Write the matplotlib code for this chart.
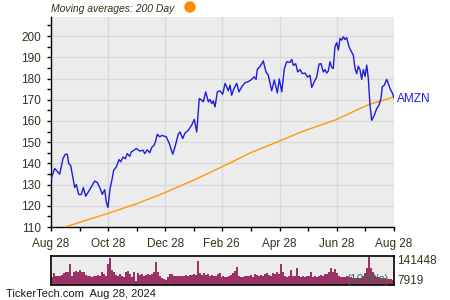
import matplotlib
matplotlib.use("Agg")
import matplotlib.pyplot as plt
from matplotlib.patches import Ellipse
import numpy as np

plt.rcParams['font.family'] = ['Liberation Sans', 'DejaVu Sans']

# days since Aug 28, 2023 and AMZN close
price_days = [0, 3.9, 9.3, 12.8, 15.3, 17.4, 18.9, 21.0, 25.3, 27.0, 29.6, 32.3, 34.5, 37.0,
              41.3, 46.6, 49.4, 52.0, 54.7, 57.3, 59.0, 60.8, 63.0, 65.1, 66.9, 69.7, 72.6,
              74.4, 76.8, 79.3, 81.4, 84.0, 85.7, 88.6, 91.0, 94.7, 98.2, 100.0, 102.8, 105.3,
              107.8, 109.9, 111.3, 113.4, 116.0, 118.4, 123.0, 126.2, 129.9, 132.3, 135.8,
              137.7, 140.5, 143.0, 146.5, 150.1, 152.9, 155.5, 158.2, 160.8, 162.5, 165.1,
              167.9, 169.7, 171.5, 173.2, 175.0, 177.5, 180.3, 183.2, 185.7, 187.5, 189.2,
              191.0, 192.8, 195.3, 198.2, 200.6, 203.5, 207.0, 210.5, 214.2, 216.6, 218.8,
              220.1, 223.0, 226.5, 229.4, 231.9, 235.5, 238.3, 241.5, 243.6, 246.2, 249.0,
              251.5, 255.0, 256.9, 258.6, 261.1, 263.3, 265.7, 268.2, 271.0, 273.9, 276.4,
              278.2, 281.0, 283.5, 286.0, 288.1, 290.6, 292.4, 294.2, 295.9, 297.7, 299.5,
              301.2, 303.0, 304.9, 306.6, 308.4, 310.2, 311.9, 313.7, 315.5, 318.0, 320.1,
              322.6, 324.4, 326.2, 327.9, 329.7, 331.5, 333.3, 335.1, 336.9, 338.6, 340.4,
              342.2, 345.0, 347.6, 350.0, 352.1, 353.5, 355.7, 358.2, 359.9, 361.7, 364.2, 366.3]
price = [132.4, 137.6, 134.9, 142.3, 144.3, 144.3, 139.9, 139.0, 128.6, 130.0, 125.3, 125.3,
         128.6, 124.5, 127.6, 131.7, 131.0, 128.6, 125.4, 127.6, 121.8, 119.2, 128.1, 132.4,
         136.8, 138.3, 141.8, 140.7, 143.0, 142.2, 144.6, 143.3, 145.4, 146.2, 147.0, 145.8,
         146.2, 144.6, 146.4, 145.0, 147.7, 148.4, 150.0, 153.7, 152.5, 153.2, 152.5, 149.4,
         144.3, 147.8, 153.7, 154.8, 151.7, 154.3, 155.6, 158.0, 160.7, 154.8, 170.6, 169.8,
         169.0, 173.7, 169.0, 170.1, 168.2, 169.4, 166.6, 173.7, 174.2, 172.6, 177.7, 176.1,
         174.2, 176.9, 172.1, 175.3, 177.7, 173.7, 176.1, 178.0, 178.5, 179.6, 180.8, 179.6,
         184.3, 185.6, 188.3, 183.1, 181.5, 174.2, 179.3, 173.2, 179.8, 173.7, 184.7, 187.9,
         187.6, 189.0, 186.2, 187.0, 183.1, 184.2, 182.3, 182.6, 180.7, 181.5, 175.8, 178.5,
         180.7, 186.8, 187.0, 183.1, 184.2, 182.6, 183.5, 187.9, 185.3, 184.7, 195.0, 196.9,
         193.4, 198.9, 198.1, 199.7, 198.4, 199.3, 195.0, 193.0, 191.0, 184.7, 182.3, 185.8,
         184.2, 179.6, 184.2, 181.0, 186.3, 180.0, 167.4, 160.3, 162.7, 165.9, 167.4, 170.6,
         176.1, 176.9, 179.6, 177.7, 175.3, 173.2, 170.6]

# 200 day moving average
ma_days = [14.9, 60.1, 91.5, 121.6, 151.8, 182.2, 212.4, 244.4, 269.2, 304.9, 329.7, 340.4, 366.0]
ma_vals = [110.0, 116.3, 121.0, 126.2, 132.0, 138.3, 144.9, 150.6, 155.2, 160.7, 165.9, 167.9, 171.3]

# volume (millions), evenly spread over the year
volume = [41, 60, 46, 46, 46, 49, 60, 65, 65, 102, 46, 65, 68, 65, 73, 65, 62, 49, 44, 44,
          41, 44, 44, 49, 46, 62, 52, 46, 104, 130, 73, 62, 49, 46, 52, 46, 41, 62, 68, 52,
          41, 62, 20, 57, 49, 55, 46, 49, 55, 49, 52, 62, 114, 62, 46, 36, 29, 26, 41, 52,
          52, 46, 46, 46, 46, 42, 46, 49, 42, 49, 49, 52, 49, 117, 57, 49, 57, 49, 55, 46,
          49, 46, 46, 52, 57, 41,
          46, 41, 41, 46, 49, 57, 68, 89, 46, 41, 41, 46, 46, 46, 49, 41, 52, 49, 46, 49,
          46, 52, 57, 49, 46, 57, 52, 65, 52, 101, 65, 46, 41, 46, 73, 46, 42, 81, 46, 41,
          46, 41, 42, 46, 62, 41, 46, 41, 46, 49, 46, 52, 55, 62, 85, 62, 78, 57, 46, 41,
          41, 41, 46, 41, 41, 36, 36, 33, 33, 36, 46, 57, 85, 141.4, 85, 62, 46, 39, 41, 36,
          33, 33, 29, 29, 29, 24]

xtick_days = [0, 61, 122, 182, 244, 305, 366]
xtick_labels = ['Aug 28', 'Oct 28', 'Dec 28', 'Feb 26', 'Apr 28', 'Jun 28', 'Aug 28']
xminor_days = [31, 92, 153, 213, 274, 335]

TXT = '#3a301c'
BG = '#ececec'
GRID = '#d9d9d9'

fig = plt.figure(figsize=(4.5, 3), dpi=100)
ax = fig.add_axes([51 / 450, 1 - 227 / 300, 343 / 450, 210 / 300])
ax.set_facecolor(BG)
ax.plot(ma_days, ma_vals, color='#ff9900', lw=1.0, zorder=3)
ax.plot(price_days, price, color='#1c1ce0', lw=1.0, zorder=4)
ax.set_xlim(0, 366)
ax.set_ylim(110, 209)
ax.set_yticks(range(110, 201, 10))
ax.set_yticks(range(115, 206, 10), minor=True)
ax.set_xticks(xtick_days)
ax.set_xticklabels(xtick_labels)
ax.set_xticks(xminor_days, minor=True)
ax.grid(True, which='major', color=GRID, lw=1.0)
ax.set_axisbelow(True)
for s in ['top', 'right']:
    ax.spines[s].set_visible(False)
for s in ['left', 'bottom']:
    ax.spines[s].set_linewidth(1.0)
ax.tick_params(which='both', direction='out', length=3, width=1, labelsize=8.5,
               labelcolor=TXT, color='black', pad=4)
ax.tick_params(axis='x', pad=5)
ax.text(369, 170.3, 'AMZN', color='#1c1ce0', fontsize=8.5, va='center', ha='left',
        clip_on=False)

# volume panel
vax = fig.add_axes([51 / 450, 15 / 300, 343 / 450, 29 / 300])
vax.set_facecolor(BG)
vdays = np.linspace(0, 366, len(volume) + 1)
vax.bar(vdays[:-1], volume, width=vdays[1] - vdays[0], align='edge', color='#993366',
        lw=0)
vax.set_xlim(0, 366)
vax.set_ylim(0, 141.4)
vax.set_xticks([])
vax.set_yticks([])
for s in vax.spines.values():
    s.set_linewidth(1.2)
vax.text(1.01, 0.82, '141448', transform=vax.transAxes, fontsize=8.5, color=TXT,
         va='center', ha='left')
vax.text(1.01, 0.15, '7919', transform=vax.transAxes, fontsize=8.5, color=TXT,
         va='center', ha='left')
vax.text(0.985, 0.16, "(1000's)", transform=vax.transAxes, fontsize=8.5, color='#3b6b55',
         va='center', ha='right')

fig.text(51 / 450, 1 - 9 / 300, 'Moving averages: 200 Day', style='italic', fontsize=7.5,
         color=TXT, va='center', ha='left')
fig.add_artist(Ellipse((190 / 450, 1 - 7 / 300), 10 / 450, 10 / 300,
                       transform=fig.transFigure, color='#ff8c00'))
fig.text(6 / 450, 1 - 294 / 300, 'TickerTech.com  Aug 28, 2024', fontsize=8,
         color='#1a1a1a', va='center', ha='left')

fig.savefig('out.png', dpi=100)
